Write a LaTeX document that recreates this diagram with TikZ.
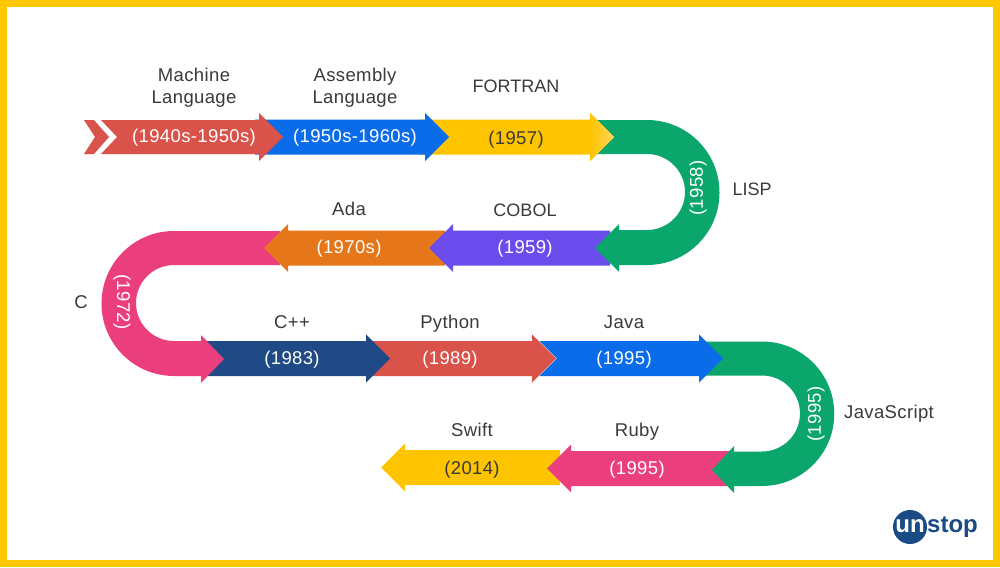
\documentclass[tikz,border=0pt]{standalone}
\usepackage{fontspec}
\setmainfont[LetterSpace=2]{Liberation Sans}
\newfontfamily\logofont{Liberation Sans}
\definecolor{frame}{HTML}{FFC800}
\definecolor{cred}{HTML}{D9534A}
\definecolor{cblue}{HTML}{0A6CE8}
\definecolor{cyellow}{HTML}{FFC400}
\definecolor{cyellowtip}{HTML}{FFD45C}
\definecolor{cgreen}{HTML}{0BA66B}
\definecolor{cpurple}{HTML}{6A4BEB}
\definecolor{corange}{HTML}{E5771A}
\definecolor{cpink}{HTML}{EB3F7D}
\definecolor{cnavy}{HTML}{1F4A85}
\definecolor{ctext}{HTML}{3A3A3A}
\definecolor{clogo}{HTML}{1B4B85}
\tikzset{
  lang/.style={text=ctext,font=\fontsize{18.5}{22}\selectfont,align=center,inner sep=0pt},
  capslang/.style={lang,font=\fontsize{18}{22}\selectfont\addfontfeature{LetterSpace=0}},
  year/.style={text=white,font=\fontsize{18.5}{22}\selectfont,inner sep=0pt},
  darkyear/.style={year,text=ctext},
  logotext/.style={font=\logofont\fontsize{24}{26}\bfseries\selectfont,inner sep=0pt},
}
% right-pointing arrow: start x, tip x, centre y, colour
\newcommand{\arrowright}[4]{\fill[#4] (#1,#3-17.5) -- (#2-24,#3-17.5) -- (#2-24,#3-24) -- (#2,#3) -- (#2-24,#3+24) -- (#2-24,#3+17.5) -- (#1,#3+17.5) -- cycle;}
% left-pointing arrow: start x, tip x, centre y, colour
\newcommand{\arrowleft}[4]{\fill[#4] (#1,#3-17.5) -- (#2+24,#3-17.5) -- (#2+24,#3-24) -- (#2,#3) -- (#2+24,#3+24) -- (#2+24,#3+17.5) -- (#1,#3+17.5) -- cycle;}
\begin{document}
\begin{tikzpicture}[x=1pt,y=1pt,yscale=-1]
\useasboundingbox (0,0) rectangle (1000,567);
\fill[white] (0,0) rectangle (1000,567);
\draw[frame,line width=7pt] (3.5,3.5) rectangle (996.5,563.5);
% --- ribbons, last first so that earlier pieces lie on top
\arrowleft{560}{381}{467.5}{cyellow}
\arrowleft{730}{547}{468.5}{cpink}
% JavaScript band
\fill[cgreen] (695,341.5) -- (762,341.5) arc[start angle=-90,end angle=90,radius=72.25] -- (734,486) -- (734,493) -- (712,470) -- (734,446) -- (734,451.5) -- (762,451.5) arc[start angle=90,end angle=-90,radius=38] -- (695,375.5) -- cycle;
\arrowright{535}{723}{358.5}{cblue}
\draw[white,line width=1pt] (532,334.5) -- (556,358.5) -- (532,382.5);
\arrowright{370}{556}{358.5}{cred}
\arrowright{205}{390}{358.5}{cnavy}
% C band
\fill[cpink] (280,231) -- (174,231) arc[start angle=-90,end angle=-270,radius=72.5] -- (201,376) -- (201,383) -- (224,359) -- (201,335) -- (201,341) -- (174,341) arc[start angle=90,end angle=270,radius=38] -- (280,265) -- cycle;
\arrowleft{445}{264}{248}{corange}
\arrowleft{610}{429}{248}{cpurple}
% LISP band
\fill[cgreen] (590,120) -- (647,120) arc[start angle=-90,end angle=90,radius=72.5] -- (619,265) -- (619,272) -- (595,248) -- (619,224) -- (619,230) -- (647,230) arc[start angle=90,end angle=-90,radius=38] -- (590,154) -- cycle;
\arrowright{420}{614}{137}{cyellow}
\shade[left color=cyellow,right color=cyellowtip] (590,113) -- (614,137) -- (590,161) -- cycle;
\arrowright{255}{449}{137}{cblue}
\fill[cred] (101,120) -- (259,120) -- (259,113) -- (283,137) -- (259,161) -- (259,154) -- (101,154) -- (117,137) -- cycle;
\fill[cred] (84,120) -- (94,120) -- (109,137) -- (94,154) -- (84,154) -- (95,137) -- cycle;
% --- labels
\node[lang] (l1) at (194,87.5) {Machine\\Language};
\node[lang] (l2) at (355,87.5) {Assembly\\Language};
\node[capslang] (l3) at (516,86) {FORTRAN};
\node[capslang] (l4) at (752,189) {LISP};
\node[capslang] (l5) at (525,210) {COBOL};
\node[lang] (l6) at (349,209) {Ada};
\node[lang] (l7) at (81,302) {C};
\node[lang] (l8) at (292,322) {C++};
\node[lang] (l9) at (450,324) {Python};
\node[lang] (l10) at (624,322) {Java};
\node[lang] (l11) at (889,414) {JavaScript};
\node[lang] (l12) at (637,432) {Ruby};
\node[lang] (l13) at (472,430) {Swift};
% --- years
\node[year] (y1) at (194,138) {(1940s-1950s)};
\node[year] (y2) at (355,138) {(1950s-1960s)};
\node[darkyear] (y3) at (516,140) {(1957)};
\node[year,rotate=90] (y4) at (698,188) {(1958)};
\node[year] (y5) at (525,249) {(1959)};
\node[year] (y6) at (349,249) {(1970s)};
\node[year,rotate=-90] (y7) at (122,302) {(1972)};
\node[year] (y8) at (292,360) {(1983)};
\node[year] (y9) at (450,360) {(1989)};
\node[year] (y10) at (624,360) {(1995)};
\node[year,rotate=90] (y11) at (816,414) {(1995)};
\node[year] (y12) at (637,470) {(1995)};
\node[darkyear] (y13) at (472,470) {(2014)};
% --- logo
\fill[clogo] (910,527) circle[radius=17];
\node[logotext,text=white] (un) at (910,526) {un};
\node[logotext,text=clogo,anchor=west] (stop) at (927,527) {stop};
\end{tikzpicture}
\end{document}
